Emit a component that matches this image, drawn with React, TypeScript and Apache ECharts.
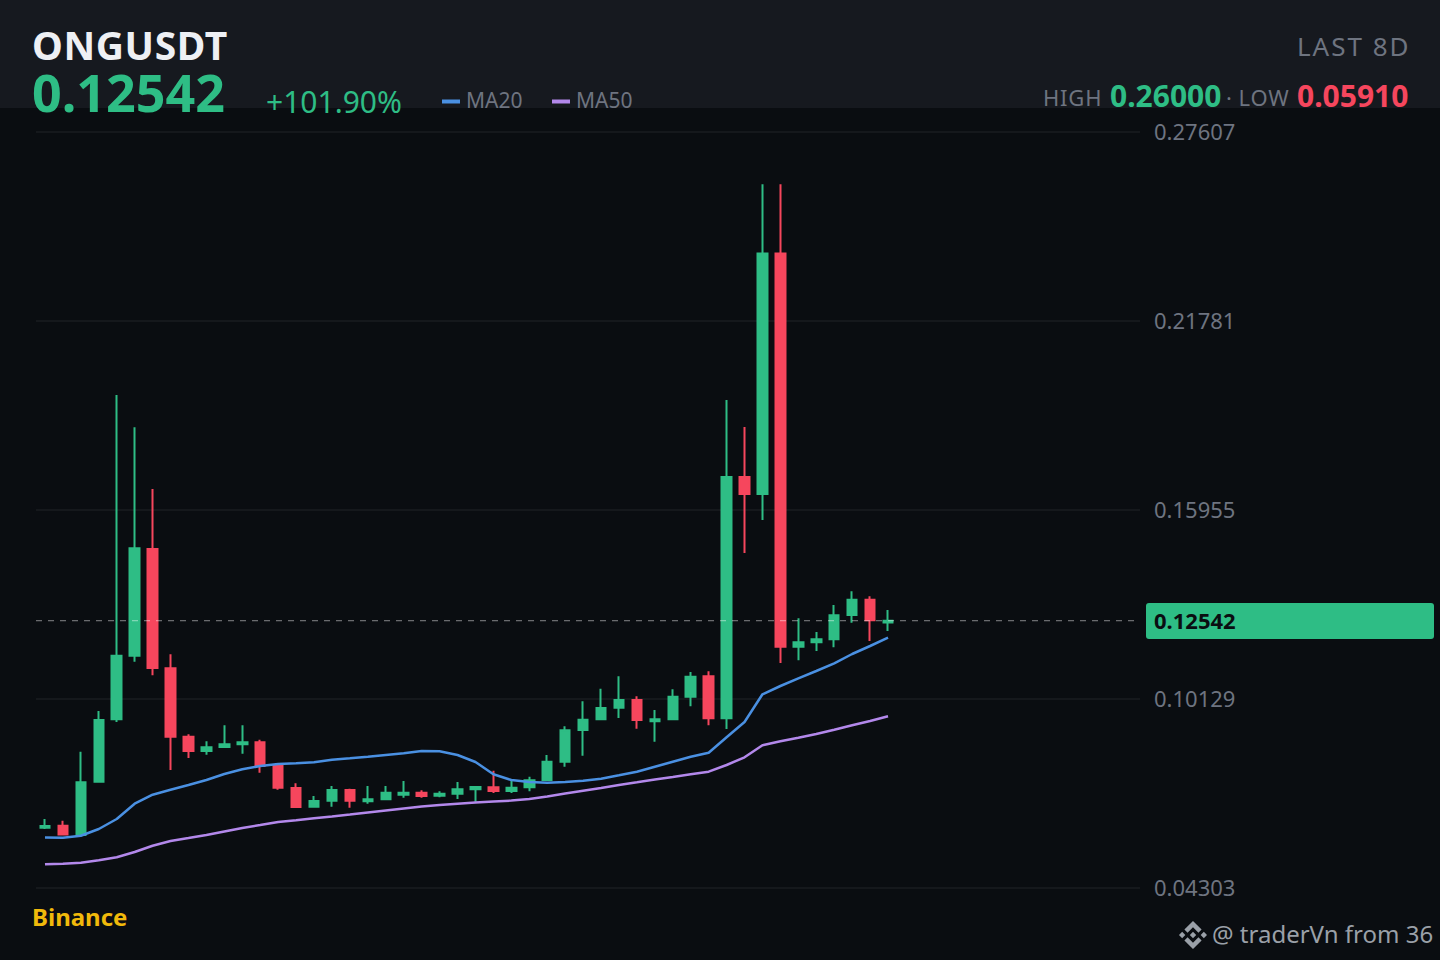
import React, { useEffect, useRef } from "react";
import * as echarts from "echarts";

const FONT = '"Noto Sans", sans-serif';
const UP = "#2ebd85";
const DOWN = "#f6465d";
const MUTED = "#6e7480";

const yTicks = [0.04303, 0.10129, 0.15955, 0.21781, 0.27607];
const lastPrice = 0.12542;

const categories = Array.from({ length: 48 }, (_, i) => `c${i + 1}`);

const opens = [
  0.06162, 0.06224, 0.05937, 0.0758, 0.09503, 0.11464, 0.14753, 0.11076, 0.08967, 0.08526, 0.0865, 0.08733,
  0.08794, 0.08064, 0.07386, 0.06809, 0.06994, 0.07324, 0.06976, 0.07037, 0.07179, 0.07241, 0.07148, 0.0721,
  0.07346, 0.07407, 0.07293, 0.07407, 0.07632, 0.08196, 0.09174, 0.09503, 0.09861, 0.10098, 0.09442, 0.09503,
  0.102, 0.10829, 0.09534, 0.16972, 0.16448, 0.23862, 0.11741, 0.11877, 0.1197, 0.12718, 0.1319, 0.12487,
];
const closes = [
  0.06214, 0.05955, 0.07561, 0.09482, 0.11464, 0.14775, 0.11085, 0.08967, 0.08526, 0.0864, 0.08733, 0.08794,
  0.08064, 0.07395, 0.068, 0.06985, 0.07324, 0.06994, 0.07037, 0.07241, 0.07241, 0.07139, 0.0721, 0.07346,
  0.07417, 0.07293, 0.07395, 0.07623, 0.08196, 0.09164, 0.09491, 0.09852, 0.10098, 0.09482, 0.09503, 0.102,
  0.10817, 0.09534, 0.16972, 0.16448, 0.23862, 0.11741, 0.11877, 0.1197, 0.12709, 0.1319, 0.12555, 0.12542,
];
const lows = [
  0.06122, 0.05943, 0.05921, 0.07571, 0.0942, 0.11279, 0.1086, 0.07941, 0.0831, 0.08412, 0.08628, 0.08443,
  0.07857, 0.07333, 0.06778, 0.068, 0.06809, 0.06778, 0.06902, 0.07025, 0.07087, 0.07087, 0.07099, 0.07047,
  0.06963, 0.07232, 0.07232, 0.07284, 0.07623, 0.08042, 0.08381, 0.09482, 0.09543, 0.09214, 0.08813, 0.09494,
  0.09904, 0.09318, 0.09204, 0.1463, 0.15647, 0.11239, 0.11322, 0.11609, 0.11723, 0.12481, 0.11917, 0.12225,
];
const highs = [
  0.0643, 0.06378, 0.08505, 0.09759, 0.195, 0.18504, 0.16603, 0.11507, 0.09041, 0.08825, 0.09318, 0.09318,
  0.08875, 0.08079, 0.07531, 0.07139, 0.07447, 0.07364, 0.07447, 0.07447, 0.07602, 0.07315, 0.07284, 0.07571,
  0.07447, 0.07919, 0.07611, 0.07734, 0.08403, 0.09288, 0.10058, 0.10447, 0.10829, 0.10212, 0.0979, 0.10428,
  0.10961, 0.10983, 0.19346, 0.18513, 0.26, 0.26, 0.12617, 0.12194, 0.13027, 0.13449, 0.13295, 0.12873,
];
const ma20 = [
  0.05857, 0.05854, 0.05915, 0.06122, 0.0643, 0.06902, 0.07179, 0.07333, 0.07478, 0.07632, 0.07817, 0.07962,
  0.08064, 0.08126, 0.08147, 0.08178, 0.08258, 0.08301, 0.0835, 0.08403, 0.08455, 0.08526, 0.08517, 0.08403,
  0.08187, 0.07808, 0.07632, 0.07571, 0.07549, 0.07571, 0.07611, 0.07672, 0.07777, 0.07888, 0.08042, 0.08196,
  0.0835, 0.08474, 0.08949, 0.0942, 0.10274, 0.1053, 0.10767, 0.10992, 0.1123, 0.11516, 0.11763, 0.12019,
];
const ma50 = [
  0.05034, 0.05052, 0.05083, 0.05157, 0.0525, 0.05413, 0.05607, 0.05752, 0.05844, 0.05937, 0.06045, 0.06153,
  0.06245, 0.06338, 0.06393, 0.06452, 0.06507, 0.06566, 0.06627, 0.06689, 0.06751, 0.06812, 0.06862, 0.06902,
  0.06939, 0.0697, 0.06997, 0.07047, 0.07124, 0.07213, 0.07299, 0.07386, 0.07478, 0.07561, 0.07648, 0.07725,
  0.07808, 0.07888, 0.08095, 0.08332, 0.08702, 0.08825, 0.08936, 0.0905, 0.09183, 0.09318, 0.09451, 0.09596,
];

const BNB_PATH =
  "M12.116 14.404L16 10.52l3.886 3.886 2.26-2.26L16 6l-6.144 6.144 2.26 2.26zM6 16l2.26-2.26L10.52 16l-2.26 2.26L6 16zm6.116 1.596L16 21.48l3.886-3.886 2.26 2.259L16 26l-6.144-6.144-.003-.003 2.263-2.257zM21.48 16l2.26-2.26L26 16l-2.26 2.26L21.48 16zm-3.188-.002h.002V16L16 18.294l-2.291-2.29-.004-.004.004-.003.401-.402.195-.195L16 13.706l2.293 2.293z";

const spacing: Record<string, string> = {
  "LAST 8D": "2px",
  HIGH: "0.8px",
  LOW: "0.8px",
  ONGUSDT: "0.6px",
};

function txt(text: string, x: number, y: number, size: number, fill: string, weight: number = 400, align: string = "left") {
  return {
    type: "text",
    x,
    y,
    z: 10,
    style: {
      text,
      fill,
      fontSize: size,
      fontWeight: weight,
      fontFamily: FONT,
      textAlign: align,
      textVerticalAlign: "middle",
    },
  };
}

export default function App() {
  const ref = useRef<HTMLDivElement>(null);

  useEffect(() => {
    document.body.style.margin = "0";
    document.body.style.background = "#0a0d11";
    echarts.graphic.registerShape("bnbLogo", (echarts.graphic as any).extendPath(BNB_PATH, {}));
    const chart = echarts.init(ref.current!, undefined, { renderer: "svg", width: 1440, height: 960 });
    chart.setOption({
      animation: false,
      backgroundColor: "#0a0d11",
      grid: [
        { left: 36, top: 132, width: 1104, height: 756 },
        { left: 36, top: 132, width: 861, height: 756 },
        { left: 36, top: 131, width: 1104, height: 756 },
      ],
      xAxis: [
        { type: "value", gridIndex: 0, min: 0, max: 1, show: false },
        { type: "category", gridIndex: 1, data: categories, show: false },
        { type: "value", gridIndex: 2, min: 0, max: 1, show: false },
      ],
      yAxis: [
        {
          type: "value",
          gridIndex: 0,
          min: yTicks[0],
          max: yTicks[yTicks.length - 1],
          axisLine: { show: false },
          axisTick: { show: false, customValues: yTicks },
          axisLabel: { show: false, customValues: yTicks },
          splitLine: { show: true, lineStyle: { color: "#15181c", width: 2 } },
        },
        {
          type: "value",
          gridIndex: 1,
          min: yTicks[0],
          max: yTicks[yTicks.length - 1],
          show: false,
        },
        {
          type: "value",
          gridIndex: 2,
          position: "right",
          min: yTicks[0],
          max: yTicks[yTicks.length - 1],
          axisLine: { show: false },
          axisTick: { show: false, customValues: yTicks },
          splitLine: { show: false },
          axisLabel: {
            customValues: yTicks,
            margin: 14,
            color: MUTED,
            fontSize: 22,
            fontFamily: FONT,
            formatter: (v: number) => v.toFixed(5),
          },
        },
      ],
      series: [
        {
          type: "candlestick",
          name: "ONGUSDT",
          xAxisIndex: 1,
          yAxisIndex: 1,
          barWidth: 10,
          z: 3,
          itemStyle: { color: UP, color0: DOWN, borderColor: UP, borderColor0: DOWN, borderWidth: 2 },
          data: categories.map((_, i) => [opens[i], closes[i], lows[i], highs[i]]),
        },
        {
          type: "line",
          name: "MA20",
          xAxisIndex: 1,
          yAxisIndex: 1,
          data: ma20,
          symbol: "none",
          z: 4,
          lineStyle: { color: "#4a90e2", width: 2.5 },
        },
        {
          type: "line",
          name: "MA50",
          xAxisIndex: 1,
          yAxisIndex: 1,
          data: ma50,
          symbol: "none",
          z: 4,
          lineStyle: { color: "#b388eb", width: 2.5 },
        },
        {
          type: "line",
          name: "Last",
          xAxisIndex: 0,
          yAxisIndex: 0,
          data: [
            [0, lastPrice],
            [1, lastPrice],
          ],
          symbol: "none",
          z: 5,
          lineStyle: { color: "rgba(255,255,255,0.5)", width: 1, type: [6, 6] },
        },
      ],
      graphic: [
        { type: "rect", z: -1, shape: { x: 0, y: 0, width: 1440, height: 108 }, style: { fill: "#16191f" } },
        txt("ONGUSDT", 32, 44, 39, "#eef0f4", 700),
        txt("0.12542", 32, 91, 52, UP, 700),
        txt("+101.90%", 266, 101, 30, UP, 400),
        { type: "rect", z: 10, shape: { x: 442, y: 99.5, width: 18, height: 4 }, style: { fill: "#4a90e2" } },
        txt("MA20", 466, 99.5, 21, MUTED),
        { type: "rect", z: 10, shape: { x: 552, y: 99.5, width: 18, height: 4 }, style: { fill: "#b388eb" } },
        txt("MA50", 576, 99.5, 21, MUTED),
        txt("LAST 8D", 1297, 45.5, 26, MUTED),
        txt("HIGH", 1043, 97, 22, MUTED),
        txt("0.26000", 1110, 95, 30, UP, 700),
        txt("·", 1226, 97, 22, MUTED),
        txt("LOW", 1238.5, 97, 22, MUTED),
        txt("0.05910", 1297, 95, 30, DOWN, 700),
        { type: "rect", z: 10, shape: { x: 1146, y: 603, width: 288, height: 36, r: 3 }, style: { fill: UP } },
        txt("0.12542", 1154, 620, 22, "#0a0d11", 700),
        txt("Binance", 32, 916, 24, "#f0b90b", 700),
        { type: "bnbLogo", z: 10, x: 1170.6, y: 912.6, scaleX: 1.4, scaleY: 1.4, style: { fill: "#9aa0a8" } },
        txt("@ traderVn from 36", 1212, 933, 24, "#9aa0a8"),
      ],
    });
    ref.current!.querySelectorAll("text").forEach((t) => {
      const s = spacing[(t.textContent || "").trim()];
      if (s) t.style.letterSpacing = s;
    });
    return () => chart.dispose();
  }, []);

  return <div ref={ref} style={{ width: 1440, height: 960 }} />;
}
